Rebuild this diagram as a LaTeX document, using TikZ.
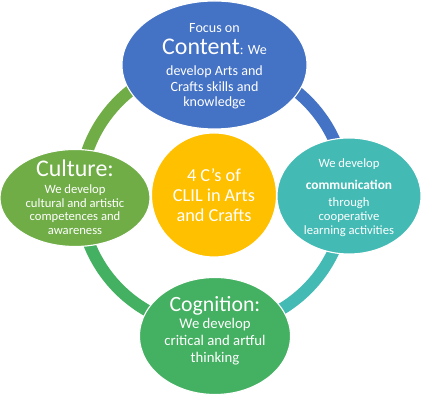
\documentclass[tikz,border=0pt]{standalone}
\usepackage{fontspec}
\setmainfont{Carlito}
\usetikzlibrary{shapes.geometric}
\definecolor{contentblue}{HTML}{4472C4}
\definecolor{culturegreen}{HTML}{70AD47}
\definecolor{commteal}{HTML}{43BAB4}
\definecolor{cogngreen}{HTML}{44B062}
\definecolor{hubyellow}{HTML}{FFC000}

\begin{document}
\begin{tikzpicture}[
  x=0.025cm, y=0.025cm,
  bubble/.style={draw=white,line width=0.8pt,ellipse,inner sep=0pt},
  ring/.style={line width=0.3cm},
  txt/.style={text=white,align=center,inner sep=0pt}
]
\useasboundingbox (0,0) rectangle (436,400);

% the ring behind the bubbles
\coordinate (mid) at (213,205);
\draw[ring,culturegreen] (mid) ++(180:3.325cm) arc[start angle=180,end angle=90,radius=3.325cm];
\draw[ring,contentblue] (mid) ++(90:3.325cm) arc[start angle=90,end angle=0,radius=3.325cm];
\draw[ring,commteal] (mid) ++(0:3.325cm) arc[start angle=360,end angle=270,radius=3.325cm];
\draw[ring,cogngreen] (mid) ++(270:3.325cm) arc[start angle=270,end angle=180,radius=3.325cm];

% bubbles
\node[bubble,fill=contentblue,minimum width=4.625cm,minimum height=3.2cm] (content) at (214.5,335) {};
\node[bubble,fill=culturegreen,minimum width=3.75cm,minimum height=2.425cm] (culture) at (75,202) {};
\node[bubble,fill=commteal,minimum width=3.6cm,minimum height=2.9cm] (comm) at (349,204) {};
\node[bubble,fill=cogngreen,minimum width=3.775cm,minimum height=2.925cm] (cogn) at (215,64) {};
\node[bubble,fill=hubyellow,minimum width=3.125cm,minimum height=3.1cm] (hub) at (214,205) {};

% texts
\node[txt,font=\fontsize{10}{11}\selectfont] (contenttxt) at (214.5,333.5)
  {Focus on\\[3.5pt]{\fontsize{17}{17}\selectfont Content}: We\\[4pt]develop Arts and\\Crafts skills and\\knowledge};
\node[txt,font=\fontsize{9}{9.6}\selectfont] (culturetxt) at (75,203)
  {{\fontsize{17}{17}\selectfont Culture:}\\[3pt]We develop\\cultural and artistic\\competences and\\awareness};
\node[txt,font=\fontsize{9}{10}\selectfont] (commtxt) at (349,202.5)
  {We develop\\[6pt]{\fontsize{9.5}{10}\selectfont\bfseries communication}\\[2pt]through\\cooperative\\learning activities};
\node[txt,font=\fontsize{10.5}{12}\selectfont] (cogntxt) at (215,69)
  {{\fontsize{15.5}{15.5}\selectfont Cognition:}\\We develop\\critical and artful\\thinking};
\node[txt,font=\fontsize{13}{14.2}\selectfont] (hubtxt) at (214,204.5)
  {4 C's of\\CLIL in Arts\\and Crafts};
\end{tikzpicture}
\end{document}
